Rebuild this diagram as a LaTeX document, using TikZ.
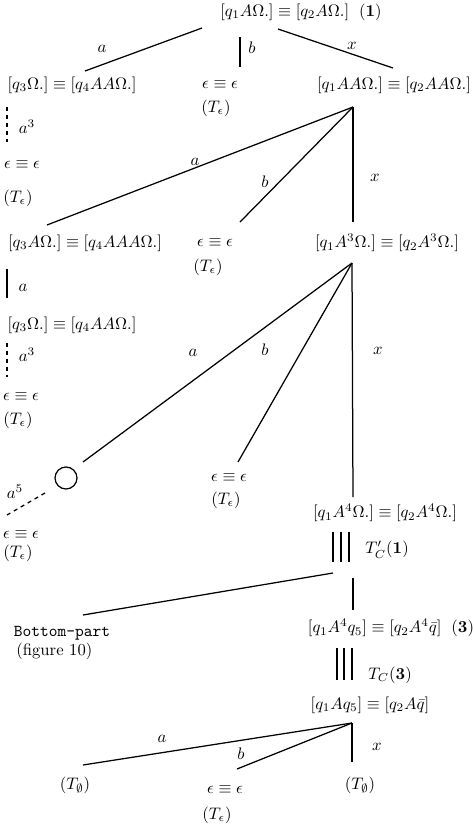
\documentclass[tikz,border=0pt]{standalone}
\begin{document}
\begin{tikzpicture}[x=0.6pt,y=-0.6pt,
  txt/.style={inner sep=0pt},
  lab/.style={inner sep=0pt},
  edge/.style={line width=0.75pt},
  dashedge/.style={line width=0.75pt, dash pattern=on 2.4pt off 2.4pt}]
\useasboundingbox (0,0) rectangle (474,825);
% nodes
\node[txt] (n0) at (301,12) {$[q_1A\Omega.]\equiv[q_2A\Omega.]$\hspace{6pt}$(\mathbf{1})$};
\node[txt] (n1) at (72,85) {$[q_3\Omega.]\equiv[q_4AA\Omega.]$};
\node[txt] (n2) at (220,85) {$\epsilon\equiv\epsilon$};
\node[txt] (n2t) at (216,108) {$(T_\epsilon)$};
\node[txt] (n3) at (394,85) {$[q_1AA\Omega.]\equiv[q_2AA\Omega.]$};
\node[txt] (n4) at (22,165) {$\epsilon\equiv\epsilon$};
\node[txt] (n4t) at (18,198) {$(T_\epsilon)$};
\node[txt] (n5) at (85,243) {$[q_3A\Omega.]\equiv[q_4AAA\Omega.]$};
\node[txt] (n6) at (215,243) {$\epsilon\equiv\epsilon$};
\node[txt] (n6t) at (208,267) {$(T_\epsilon)$};
\node[txt] (n7) at (387,243) {$[q_1A^3\Omega.]\equiv[q_2A^3\Omega.]$};
\node[txt] (n8) at (72,325) {$[q_3\Omega.]\equiv[q_4AA\Omega.]$};
\node[txt] (n9) at (21,397) {$\epsilon\equiv\epsilon$};
\node[txt] (n9t) at (18,420) {$(T_\epsilon)$};
\node[draw, circle, line width=0.75pt, minimum size=13.2pt, inner sep=0pt] (c) at (66,478) {};
\node[txt] (n10) at (21,535) {$\epsilon\equiv\epsilon$};
\node[txt] (n10t) at (18,553) {$(T_\epsilon)$};
\node[txt] (n11) at (229,478) {$\epsilon\equiv\epsilon$};
\node[txt] (n11t) at (226,500) {$(T_\epsilon)$};
\node[txt] (n12) at (385,513) {$[q_1A^4\Omega.]\equiv[q_2A^4\Omega.]$};
\node[lab] (tc1) at (387,550) {$T'_C(\mathbf{1})$};
\node[txt, align=left] (n13) at (62,643) {\texttt{Bottom-part}\\[-1pt]\hspace{1.5pt}(figure 10)};
\node[txt] (n14) at (391,628) {$[q_1A^4q_5]\equiv[q_2A^4\bar q]$\hspace{6pt}$(\mathbf{3})$};
\node[lab] (tc3) at (390,675) {$T_C(\mathbf{3})$};
\node[txt] (n15) at (370,705) {$[q_1Aq_5]\equiv[q_2A\bar q]$};
\node[txt] (n16) at (75,785) {$(T_\emptyset)$};
\node[txt] (n17) at (225,790) {$\epsilon\equiv\epsilon$};
\node[txt] (n17t) at (217,815) {$(T_\epsilon)$};
\node[txt] (n18) at (360,785) {$(T_\emptyset)$};
% coordinates
\coordinate (r1) at (202,28); \coordinate (e1) at (85,71);
\coordinate (r2) at (240,37); \coordinate (e2) at (240,67);
\coordinate (r3) at (278,29); \coordinate (e3) at (393,68);
\coordinate (d1a) at (7,107); \coordinate (d1b) at (7,142);
\coordinate (f1) at (353,107);
\coordinate (f1a) at (47,225); \coordinate (f1b) at (240,222); \coordinate (f1x) at (353,222);
\coordinate (v1a) at (7,269); \coordinate (v1b) at (7,298);
\coordinate (d2a) at (7,343); \coordinate (d2b) at (7,377);
\coordinate (f2) at (352,263);
\coordinate (f2a) at (83,462); \coordinate (f2b) at (238,462); \coordinate (f2x) at (353,497);
\coordinate (d3a) at (45,493); \coordinate (d3b) at (7,515);
\coordinate (bl1) at (333,573); \coordinate (bl2) at (83,615);
\coordinate (bv1) at (353,578); \coordinate (bv2) at (353,610);
\coordinate (f3) at (352,723);
\coordinate (f3a) at (83,765); \coordinate (f3b) at (237,769); \coordinate (f3x) at (352,762);
% edges
\draw[edge] (r1) -- (e1);
\draw[edge] (r2) -- (e2);
\draw[edge] (r3) -- (e3);
\node[lab] at (102,49) {$a$};
\node[lab] at (252,48) {$b$};
\node[lab] at (352,46) {$x$};
\draw[dashedge] (d1a) -- (d1b);
\node[lab] at (27,127) {$a^3$};
\draw[edge] (f1) -- (f1a);
\draw[edge] (f1) -- (f1b);
\draw[edge] (f1) -- (f1x);
\node[lab] at (195,162) {$a$};
\node[lab] at (265,182) {$b$};
\node[lab] at (375,178) {$x$};
\draw[edge] (v1a) -- (v1b);
\node[lab] at (23,288) {$a$};
\draw[dashedge] (d2a) -- (d2b);
\node[lab] at (27,355) {$a^3$};
\draw[edge] (f2) -- (f2a);
\draw[edge] (f2) -- (f2b);
\draw[edge] (f2) -- (f2x);
\node[lab] at (193,353) {$a$};
\node[lab] at (265,350) {$b$};
\node[lab] at (378,351) {$x$};
\draw[dashedge] (d3a) -- (d3b);
\node[lab] at (15,492) {$a^5$};
\foreach \xx in {333,341,349} \draw[edge] (\xx,532) -- (\xx,562);
\draw[edge] (bl1) -- (bl2);
\draw[edge] (bv1) -- (bv2);
\foreach \xx in {337,344,352} \draw[edge] (\xx,648) -- (\xx,680);
\draw[edge] (f3) -- (f3a);
\draw[edge] (f3) -- (f3b);
\draw[edge] (f3) -- (f3x);
\node[lab] at (162,739) {$a$};
\node[lab] at (241,754) {$b$};
\node[lab] at (377,747) {$x$};
\end{tikzpicture}
\end{document}
